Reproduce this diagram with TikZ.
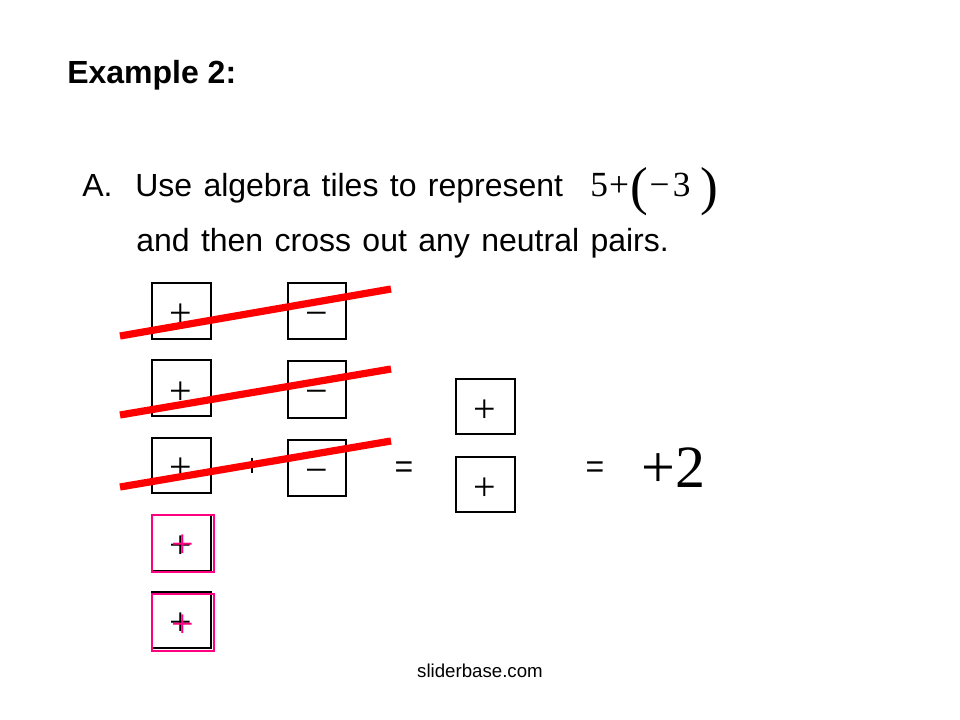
\documentclass[tikz,border=0pt]{standalone}
\usepackage{fontspec}
\setmainfont{Liberation Sans}
\newfontfamily\timesfont{Liberation Serif}
\newfontfamily\spacedfont[WordSpace=1.28]{Liberation Sans}
\usetikzlibrary{positioning, calc}

\definecolor{crossred}{RGB}{255,0,0}
\definecolor{tilepink}{RGB}{255,0,128}

\tikzset{
  tile/.style={draw=black, line width=1.5pt},
  pinktile/.style={draw=tilepink, line width=1.9pt},
  crossout/.style={draw=crossred, line width=5.4pt},
  sign/.style={anchor=base, inner sep=0pt, font=\timesfont\fontsize{30}{30}\selectfont},
  eqsign/.style={anchor=base, inner sep=0pt, font=\fontsize{24}{24}\selectfont},
}

\begin{document}
\begin{tikzpicture}[x=0.75pt,y=0.75pt,yscale=-1,xscale=1]
			\useasboundingbox (0,0) rectangle (960,720);
			
			% Text Node
			\draw (67,84) node (title) [anchor=base west][inner sep=0pt] [font=\bfseries\fontsize{24}{28}\selectfont] {Example 2:};
			% Text Node
			\draw (82,197) node (lineA) [anchor=base west][inner sep=0pt] [font=\spacedfont\fontsize{24}{28}\selectfont] {A.\ \ Use algebra tiles to represent};
			% Text Node
			\draw (590,197) node (sum) [anchor=base west][inner sep=0pt] [font=\timesfont\fontsize{26.5}{28}\selectfont] {5\kern1pt+\kern1pt{\fontsize{40}{40}\selectfont\raisebox{-6pt}{(}}\kern1pt−\kern2.5pt3\kern7.5pt{\fontsize{40}{40}\selectfont\raisebox{-6pt}{)}}};
			% Text Node
			\draw (136,252) node (lineB) [anchor=base west][inner sep=0pt] [font=\spacedfont\fontsize{24}{28}\selectfont] {and then cross out any neutral pairs.};
			
			%Shape: Square [id:row1]
			\draw [tile] (152,283) rectangle (211,339) ;
			\draw [tile] (288,283) rectangle (346,339) ;
			%Shape: Square [id:row2]
			\draw [tile] (152,360) rectangle (211,416) ;
			\draw [tile] (288,361) rectangle (346,418) ;
			%Shape: Square [id:row3]
			\draw [tile] (152,438) rectangle (211,493) ;
			\draw [tile] (288,440) rectangle (346,496) ;
			%Shape: Square [id:row4]
			\draw [tile] (152,515) rectangle (211,571) ;
			\draw [pinktile] (152,515) rectangle (214,572) ;
			%Shape: Square [id:row5]
			\draw [tile] (152,592) rectangle (211,648) ;
			\draw [pinktile] (152,594) rectangle (214,651) ;
			%Shape: Square [id:result]
			\draw [tile] (456,379) rectangle (515,434) ;
			\draw [tile] (456,457) rectangle (515,512) ;
			
			% Text Node
			\draw (181,326) node (plusA) [sign] {+};
			\draw (317,326) node (minusA) [sign] {−};
			\draw (181,404) node (plusB) [sign] {+};
			\draw (317,404) node (minusB) [sign] {−};
			\draw (181,480) node (plusC) [sign] {+};
			\draw (317,483) node (minusC) [sign] {−};
			\draw (181,558) node (plusD) [sign] {+};
			\draw (183,557) node (plusDpink) [sign, text=tilepink] {+};
			\draw (181,635) node (plusE) [sign] {+};
			\draw (183,637) node (plusEpink) [sign, text=tilepink] {+};
			\draw (485,422) node (plusF) [sign] {+};
			\draw (485,500) node (plusG) [sign] {+};
			
			%Straight Lines [id:tick]
			\draw [line width=2.2pt] (252,458) -- (252,473) ;
			
			% Text Node
			\draw (404,477) node (eqA) [eqsign] {=};
			\draw (595,477) node (eqB) [eqsign] {=};
			% Text Node
			\draw (641,487) node (answer) [anchor=base west][inner sep=0pt] [font=\timesfont\fontsize{45}{45}\selectfont] {+2};
			
			%Straight Lines [id:cross]
			\coordinate (crossAl) at (120,336); \coordinate (crossAr) at (391,289);
			\coordinate (crossBl) at (120,415); \coordinate (crossBr) at (391,369);
			\coordinate (crossCl) at (120,487); \coordinate (crossCr) at (391,441);
			\draw [crossout] (crossAl) -- (crossAr) ;
			\draw [crossout] (crossBl) -- (crossBr) ;
			\draw [crossout] (crossCl) -- (crossCr) ;
			
			% Text Node
			\draw (480,677) node (footer) [anchor=base][inner sep=0pt] [font=\fontsize{14}{16}\selectfont] {sliderbase.com};
			
		\end{tikzpicture}
\end{document}
